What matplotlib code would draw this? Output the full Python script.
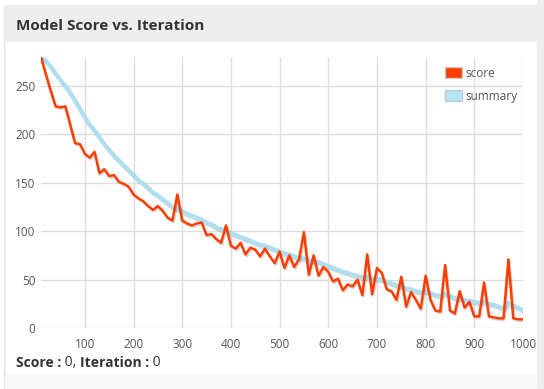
import matplotlib.pyplot as plt
from matplotlib.patches import Patch, Rectangle
import matplotlib.patheffects as pe

plt.rcParams['font.family'] = ['Open Sans', 'DejaVu Sans']

# iterations, one sample every 10
iterations = list(range(10, 1001, 10))

score = [280, 262, 245, 229, 228, 229, 210, 191, 190, 180,
         176, 182, 160, 164, 157, 158, 151, 149, 146, 138,
         134, 131, 126, 122, 126, 121, 114, 111, 138, 111,
         108, 106, 108, 109, 96, 97, 92, 88, 106, 85,
         82, 88, 76, 83, 81, 74, 82, 74, 67, 79,
         62, 75, 63, 71, 99, 55, 75, 54, 63, 58,
         48, 51, 39, 45, 43, 50, 34, 76, 35, 62,
         57, 40, 38, 29, 53, 22, 37, 29, 20, 54,
         29, 18, 17, 65, 18, 15, 38, 21, 27, 12,
         12, 47, 12, 11, 10, 10, 71, 10, 9, 9]

summary = [280, 276, 270, 263, 256, 250, 243, 235, 226, 218,
           210, 204, 197, 190, 184, 178, 173, 168, 163, 158,
           153, 149, 145, 140, 137, 133, 129, 125, 123, 121,
           118, 116, 114, 112, 109, 107, 104, 102, 101, 98,
           96, 94, 92, 90, 88, 86, 85, 83, 81, 79,
           77, 76, 74, 72, 72, 70, 69, 68, 66, 64,
           62, 60, 58, 57, 55, 54, 52, 53, 51, 51,
           50, 48, 46, 44, 43, 41, 40, 38, 37, 38,
           36, 34, 33, 35, 33, 31, 30, 29, 28, 27,
           26, 27, 25, 24, 22, 20, 26, 23, 21, 18]

xticks = [100, 200, 300, 400, 500, 600, 700, 800, 900, 1000]
yticks = [0, 50, 100, 150, 200, 250]

fig = plt.figure(figsize=(5.44, 3.89), dpi=100)
W, H = 544, 389

# panel frame: header bar, body, footer, right gutter
def box(x, y, w, h, fc, ec='none'):
    fig.patches.append(Rectangle((x / W, 1 - (y + h) / H), w / W, h / H,
                                 transform=fig.transFigure, facecolor=fc,
                                 edgecolor=ec, lw=1, zorder=-5))

box(4, 5, 533, 384, 'white', '#e3e3e3')
box(4, 5, 533, 37, '#eeeeee')
box(5, 373, 531, 16, '#f8f8f8')
box(537, 0, 7, 389, '#eeeeee')

fig.text(16 / W, 1 - 26.5 / H, 'Model Score vs. Iteration', fontsize=11,
         fontweight='bold', color='#333333', va='center', ha='left')

ax = fig.add_axes([41 / W, 1 - 328 / H, 482 / W, 271 / H])
shadow = [pe.SimpleLineShadow(offset=(0.8, -1.2), alpha=0.15), pe.Normal()]
ax.plot(iterations, summary, color='#addff0', lw=3.0, path_effects=shadow, zorder=3)
ax.plot(iterations, score, color='#ff3d00', lw=1.8, path_effects=shadow, zorder=4)

ax.set_xlim(10, 1000)
ax.set_ylim(0, 280)
ax.set_xticks(xticks)
ax.set_yticks(yticks)
ax.grid(True, color='#dddddd', lw=1)
ax.set_axisbelow(True)
for s in ax.spines.values():
    s.set_visible(False)
ax.tick_params(length=0, labelsize=8.5, labelcolor='#555555')
ax.tick_params(axis='y', pad=4)
ax.tick_params(axis='x', pad=7.5)

handles = [Patch(facecolor='#ff3d00', edgecolor='#c8c8c8', label='score'),
           Patch(facecolor='#b3e6f5', edgecolor='#c8c8c8', label='summary')]
ax.legend(handles=handles, loc='upper left', bbox_to_anchor=(0.829, 0.982), frameon=False,
          fontsize=8.5, labelcolor='#555555', handlelength=1.4, handleheight=1.0,
          handletextpad=0.3, labelspacing=0.85, borderaxespad=0)

# footer status line, pieces placed one after another
fig.canvas.draw()
renderer = fig.canvas.get_renderer()
xpos = 16
for txt, weight in [('Score :', 'bold'), (' 0, ', 'normal'), ('Iteration :', 'bold'), (' 0', 'normal')]:
    t = fig.text(xpos / W, 1 - 363 / H, txt, fontsize=10, fontweight=weight,
                 color='#333333', va='center', ha='left')
    xpos += t.get_window_extent(renderer).width

fig.savefig('out.png', dpi=100)
